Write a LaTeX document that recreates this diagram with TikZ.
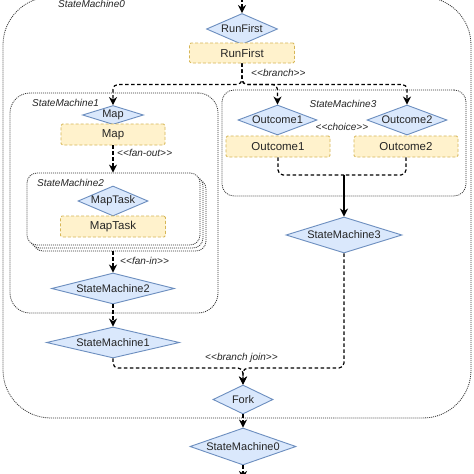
\documentclass[tikz,border=0pt]{standalone}
\usepackage{fontspec}
\setmainfont{Liberation Sans}
\usetikzlibrary{shapes.geometric,arrows.meta}
\definecolor{dfill}{HTML}{DAE8FC}
\definecolor{ddraw}{HTML}{6C8EBF}
\definecolor{rfill}{HTML}{FFF2CC}
\definecolor{rdraw}{HTML}{D6B656}
\newcommand{\lt}{{<}\kern0.2pt{<}}
\newcommand{\gt}{{>}\kern0.2pt{>}}
\begin{document}
\begin{tikzpicture}[x=1pt,y=-1pt,
 dnode/.style={diamond, draw=ddraw, fill=dfill, line width=0.9pt, inner sep=0pt, text=black!85, font=\fontsize{11}{13}\selectfont},
 rnode/.style={rectangle, draw=rdraw, fill=rfill, dash pattern=on 3pt off 2pt, line width=0.8pt, rounded corners=1.5pt, inner sep=0pt, text=black!85, font=\fontsize{11.5}{13}\selectfont},
 box/.style={rectangle, draw=black!80, dash pattern=on 1pt off 1pt, line width=0.8pt, fill=white},
 lab/.style={font=\fontsize{10}{12}\selectfont\itshape, inner sep=0pt, text=black!85},
 edgeplain/.style={draw=black, line width=1.2pt, dash pattern=on 3.5pt off 2.5pt, rounded corners=5pt},
 edge/.style={edgeplain, -{Stealth[length=8pt,width=8pt,inset=2.5pt]}},
 solidedge/.style={draw=black, line width=1.2pt, -{Stealth[length=8pt,width=8pt,inset=2.5pt]}},
]
\useasboundingbox (0,0) rectangle (474,474);
\fill[white] (0,0) rectangle (474,474);
% containers
\node[box, rounded corners=48pt, minimum width=468pt, minimum height=421pt] (sm0) at (237,207.5) {};
\node[lab, anchor=west] (sm0lab) at (58,4) {StateMachine0};
\node[box, rounded corners=20pt, minimum width=208pt, minimum height=220pt] (sm1) at (114,203) {};
\node[lab, anchor=west] (sm1lab) at (32,103) {StateMachine1};
\node[box, rounded corners=12pt, minimum width=244pt, minimum height=106pt] (sm3) at (344,143) {};
\node[lab] (sm3lab) at (343,104) {StateMachine3};
\node[box, rounded corners=10pt, minimum width=173pt, minimum height=72pt] (sm2c) at (119.5,215) {};
\node[box, rounded corners=10pt, minimum width=173pt, minimum height=72pt] (sm2b) at (116.5,212) {};
\node[box, rounded corners=10pt, minimum width=173pt, minimum height=72pt] (sm2a) at (113.5,209) {};
\node[lab, anchor=west] (sm2lab) at (37,183) {StateMachine2};
% states
\node[dnode, minimum width=71pt, minimum height=31pt, shape aspect=2.3] (rf) at (242,29) {RunFirst};
\node[rnode, minimum width=105pt, minimum height=20pt] (rfr) at (242,53) {RunFirst};
\node[dnode, minimum width=61pt, minimum height=19pt, shape aspect=3.2] (map) at (113,115) {Map};
\node[rnode, minimum width=104pt, minimum height=21pt] (mapr) at (113,134.5) {Map};
\node[dnode, minimum width=70pt, minimum height=30pt, shape aspect=2.33] (mt) at (113,201) {MapTask};
\node[rnode, minimum width=105pt, minimum height=21pt] (mtr) at (113,226.5) {MapTask};
\node[dnode, minimum width=123pt, minimum height=31pt, shape aspect=4] (sm2d) at (113,288.5) {StateMachine2};
\node[dnode, minimum width=133pt, minimum height=31pt, shape aspect=4.3] (sm1d) at (113,342.5) {StateMachine1};
\node[dnode, minimum width=79pt, minimum height=30pt, shape aspect=2.63] (o1) at (277.5,120) {Outcome1};
\node[dnode, minimum width=80pt, minimum height=30pt, shape aspect=2.66] (o2) at (407,120) {Outcome2};
\node[rnode, minimum width=104pt, minimum height=21pt] (o1r) at (278,146.5) {Outcome1};
\node[rnode, minimum width=104pt, minimum height=21pt] (o2r) at (406,146.5) {Outcome2};
\node[dnode, minimum width=116pt, minimum height=36pt, shape aspect=3.2] (sm3d) at (344,235) {StateMachine3};
\node[dnode, minimum width=60pt, minimum height=29pt, shape aspect=2.07] (fork) at (243,399.5) {Fork};
\node[dnode, minimum width=106pt, minimum height=37pt, shape aspect=2.86] (sm0d) at (243,446.5) {StateMachine0};
% labels
\node[lab, anchor=west] (lbranch) at (251,73) {\lt branch\gt};
\node[lab, anchor=west] (lfanout) at (117,153) {\lt fan-out\gt};
\node[lab, anchor=west] (lfanin) at (120,261) {\lt fan-in\gt};
\node[lab] (lchoice) at (342,127) {\lt choice\gt};
\node[lab] (ljoin) at (241.5,358) {\lt branch join\gt};
% connectors
\coordinate (tin) at (242,-8);
\coordinate (bout) at (243,479);
\coordinate (j) at (243,368);
\coordinate (jn) at (344,175);
\draw[edge] (tin) -- (rf.north);
\draw[edge] (rfr.south) -- ++(0,21) -| (map.north);
\draw[edge] (rfr.south) -- ++(0,21) -| (o1.north);
\draw[edge] (rfr.south) -- ++(0,21) -| (o2.north);
\draw[edge] (mapr.south) -- (mapr.south |- sm2a.north);
\draw[edge] (sm2d.north |- sm2c.south) -- (sm2d.north);
\draw[edge] (sm2d.south) -- (sm1d.north);
\draw[edgeplain] (o1r.south) |- (jn);
\draw[edgeplain] (o2r.south) |- (jn);
\draw[solidedge] (jn) -- (sm3d.north);
\draw[edge] (sm1d.south) |- (j) -- (fork.north);
\draw[edge] (sm3d.south) |- (j) -- (fork.north);
\draw[edge] (fork.south) -- (sm0d.north);
\draw[edge] (sm0d.south) -- (bout);
\end{tikzpicture}
\end{document}
